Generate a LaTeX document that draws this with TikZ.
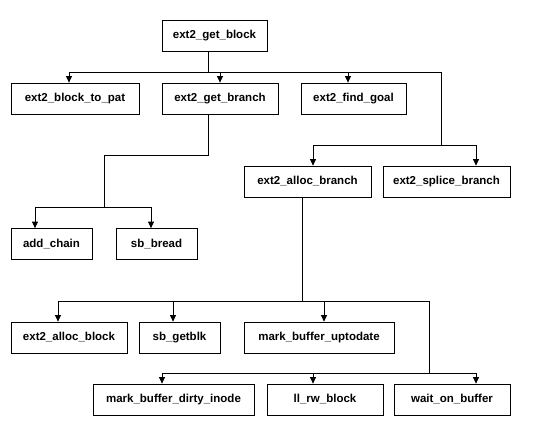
\documentclass[tikz,border=0pt]{standalone}
\usepackage{fontspec}
\setmainfont{Liberation Sans}
\usepackage{tikz}
\usetikzlibrary{arrows,arrows.meta,calc}

\tikzset{
  fn/.style={draw=black, line width=0.8pt, minimum height=31pt, inner sep=0pt,
    font=\bfseries\fontsize{11.5}{13}\selectfont},
  call/.style={draw=black, line width=0.8pt, -{Triangle[width=6pt,length=6.5pt]}},
  wire/.style={draw=black, line width=0.8pt}
}

\begin{document}
\begin{tikzpicture}[x=1pt,y=-1pt]
    \useasboundingbox[fill=white] (0,0) rectangle (540,426);

    \node[fn, minimum width=105pt] (getblock)     at (214.5,35.5) {ext2\_get\_block};
    \node[fn, minimum width=128pt] (blocktopat)   at (75,98.5)    {ext2\_block\_to\_pat};
    \node[fn, minimum width=116pt] (getbranch)    at (220,98.5)   {ext2\_get\_branch};
    \node[fn, minimum width=105pt] (findgoal)     at (353.5,98.5) {ext2\_find\_goal};
    \node[fn, minimum width=127pt] (allocbranch)  at (307.5,181.5) {ext2\_alloc\_branch};
    \node[fn, minimum width=127pt] (splicebranch) at (446.5,181.5) {ext2\_splice\_branch};
    \node[fn, minimum width=81pt]  (addchain)     at (51.5,244)   {add\_chain};
    \node[fn, minimum width=81pt]  (sbbread)      at (156.5,244)  {sb\_bread};
    \node[fn, minimum width=116pt] (allocblock)   at (69,337.5)   {ext2\_alloc\_block};
    \node[fn, minimum width=81pt]  (sbgetblk)     at (179.5,337.5) {sb\_getblk};
    \node[fn, minimum width=150pt] (uptodate)     at (319,337.5)  {mark\_buffer\_uptodate};
    \node[fn, minimum width=161pt] (dirtyinode)   at (173.5,399.5) {mark\_buffer\_dirty\_inode};
    \node[fn, minimum width=116pt] (llrwblock)    at (325,399.5)  {ll\_rw\_block};
    \node[fn, minimum width=116pt] (waitonbuffer) at (452,399.5)  {wait\_on\_buffer};

    % ext2_get_block
    \coordinate (b1) at (208,72);
    \draw[wire] (b1 |- getblock.south) -- (b1);
    \draw[wire] (69,72) -- (441,72) -- (441,145);
    \foreach \x/\t in {69/blocktopat, 220/getbranch, 348/findgoal} {
      \draw[call] (\x,72) -- (\x,72 |- \t.north);
    }
    \draw[wire] (313,145) -- (476,145);
    \foreach \x/\t in {313/allocbranch, 476/splicebranch} {
      \draw[call] (\x,145) -- (\x,145 |- \t.north);
    }

    % ext2_get_branch
    \coordinate (b2) at (208,155);
    \draw[wire] (b2 |- getbranch.south) -- (b2) -- (104,155) -- (104,207);
    \draw[wire] (35,207) -- (151,207);
    \foreach \x/\t in {35/addchain, 151/sbbread} {
      \draw[call] (\x,207) -- (\x,207 |- \t.north);
    }

    % ext2_alloc_branch
    \coordinate (b3) at (302,301);
    \draw[wire] (b3 |- allocbranch.south) -- (b3);
    \draw[wire] (58,301) -- (429,301) -- (429,373);
    \foreach \x/\t in {58/allocblock, 173/sbgetblk, 324/uptodate} {
      \draw[call] (\x,301) -- (\x,301 |- \t.north);
    }
    \draw[wire] (162,373) -- (476,373);
    \foreach \x/\t in {162/dirtyinode, 313/llrwblock, 476/waitonbuffer} {
      \draw[call] (\x,373) -- (\x,373 |- \t.north);
    }

  \end{tikzpicture}
\end{document}
